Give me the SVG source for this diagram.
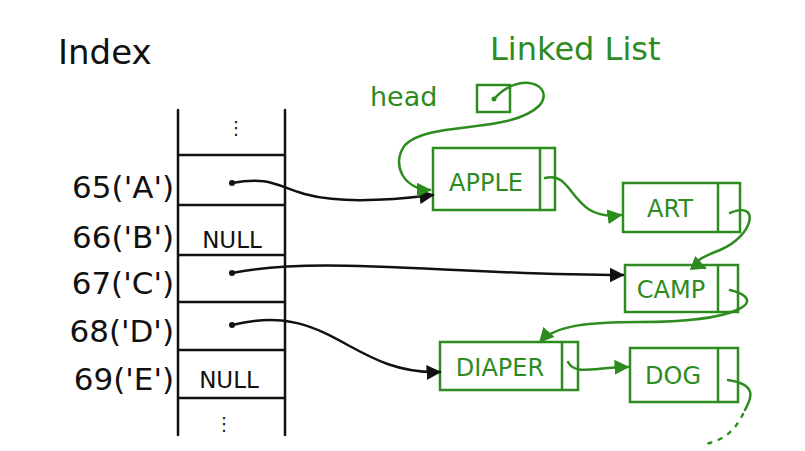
<svg xmlns="http://www.w3.org/2000/svg" width="805" height="451" viewBox="0 0 805 451">
<defs>
<style>
.k{stroke:#111;stroke-width:2.5;fill:none;stroke-linecap:round}
.g{stroke:#2e8b1f;stroke-width:2.5;fill:none;stroke-linecap:round}
.tk{font-family:"DejaVu Sans",sans-serif;fill:#111}
.tg{font-family:"DejaVu Sans",sans-serif;fill:#2e8b1f}
</style>
<marker id="ak" viewBox="0 0 10 10" refX="9" refY="5" markerWidth="6" markerHeight="6" orient="auto"><path d="M0,0L10,5L0,10z" fill="#111"/></marker>
<marker id="ag" viewBox="0 0 10 10" refX="9" refY="5" markerWidth="6" markerHeight="6" orient="auto"><path d="M0,0L10,5L0,10z" fill="#2e8b1f"/></marker>
</defs>
<rect width="805" height="451" fill="#fff"/>
<g id="index">
<text class="tk" x="58" y="64" font-size="34">Index</text>
<path class="k" d="M178,110V435M285,110V435M178,155H285M178,205H285M178,255H285M178,302H285M178,350H285M178,398H285"/>
<text class="tk" x="236" y="134" font-size="18" text-anchor="middle">⋮</text>
<text class="tk" x="224" y="430" font-size="18" text-anchor="middle">⋮</text>
<text class="tk" x="232" y="248" font-size="23" text-anchor="middle">NULL</text>
<text class="tk" x="229" y="388" font-size="23" text-anchor="middle">NULL</text>
<g font-size="31" text-anchor="end" textLength="118"><text class="tk" x="174" y="198">65('A')</text><text class="tk" x="174" y="248">66('B')</text><text class="tk" x="174" y="294">67('C')</text><text class="tk" x="174" y="342">68('D')</text><text class="tk" x="174" y="390">69('E')</text></g>
<circle cx="232" cy="183" r="3" fill="#111"/><circle cx="232" cy="273" r="3" fill="#111"/><circle cx="232" cy="325" r="3" fill="#111"/>
</g>
<g id="title"><text class="tg" x="490" y="60" font-size="32">Linked List</text></g>
<g id="head"><text class="tg" x="370" y="106" font-size="27">head</text><rect class="g" x="477" y="85" width="33" height="27"/><circle cx="494" cy="99" r="2.5" fill="#2e8b1f"/></g>
<g id="apple"><rect class="g" x="433" y="148" width="122" height="62"/><path class="g" d="M540,148V210"/><text class="tg" x="486" y="191" font-size="24" text-anchor="middle">APPLE</text></g>
<g id="art"><rect class="g" x="623" y="183" width="117" height="49"/><path class="g" d="M718,183V232"/><text class="tg" x="670" y="217" font-size="24" text-anchor="middle">ART</text></g>
<g id="camp"><rect class="g" x="625" y="265" width="113" height="47"/><path class="g" d="M718,265V312"/><text class="tg" x="671" y="298" font-size="24" text-anchor="middle">CAMP</text></g>
<g id="diaper"><rect class="g" x="440" y="342" width="138" height="48"/><path class="g" d="M562,342V390"/><text class="tg" x="500" y="376" font-size="24" text-anchor="middle">DIAPER</text></g>
<g id="dog"><rect class="g" x="630" y="348" width="108" height="54"/><path class="g" d="M718,348V402"/><text class="tg" x="673" y="384" font-size="24" text-anchor="middle">DOG</text></g>
<g id="connectors">
<path class="k" marker-end="url(#ak)" d="M232,183C300,170 270,215 433,195"/>
<path class="k" marker-end="url(#ak)" d="M232,273C320,255 450,275 623,275"/>
<path class="k" marker-end="url(#ak)" d="M232,325C330,300 350,375 440,372"/>
<path class="g" marker-end="url(#ag)" d="M494,99C520,70 555,85 540,105C510,135 430,120 405,145C390,165 405,190 430,190"/>
<path class="g" marker-end="url(#ag)" d="M545,178C575,170 570,222 621,215"/>
<path class="g" marker-end="url(#ag)" d="M730,213C760,200 755,235 720,250C700,258 690,262 705,268"/>
<path class="g" marker-end="url(#ag)" d="M730,290C770,300 740,322 640,322C590,322 555,325 540,342"/>
<path class="g" marker-end="url(#ag)" d="M568,362C575,375 590,368 628,367"/>
<path class="g" d="M728,380C760,385 750,400 745,410"/>
<path class="g" stroke-dasharray="3,8" d="M743,414C735,430 725,440 705,444"/>
</g>
</svg>
